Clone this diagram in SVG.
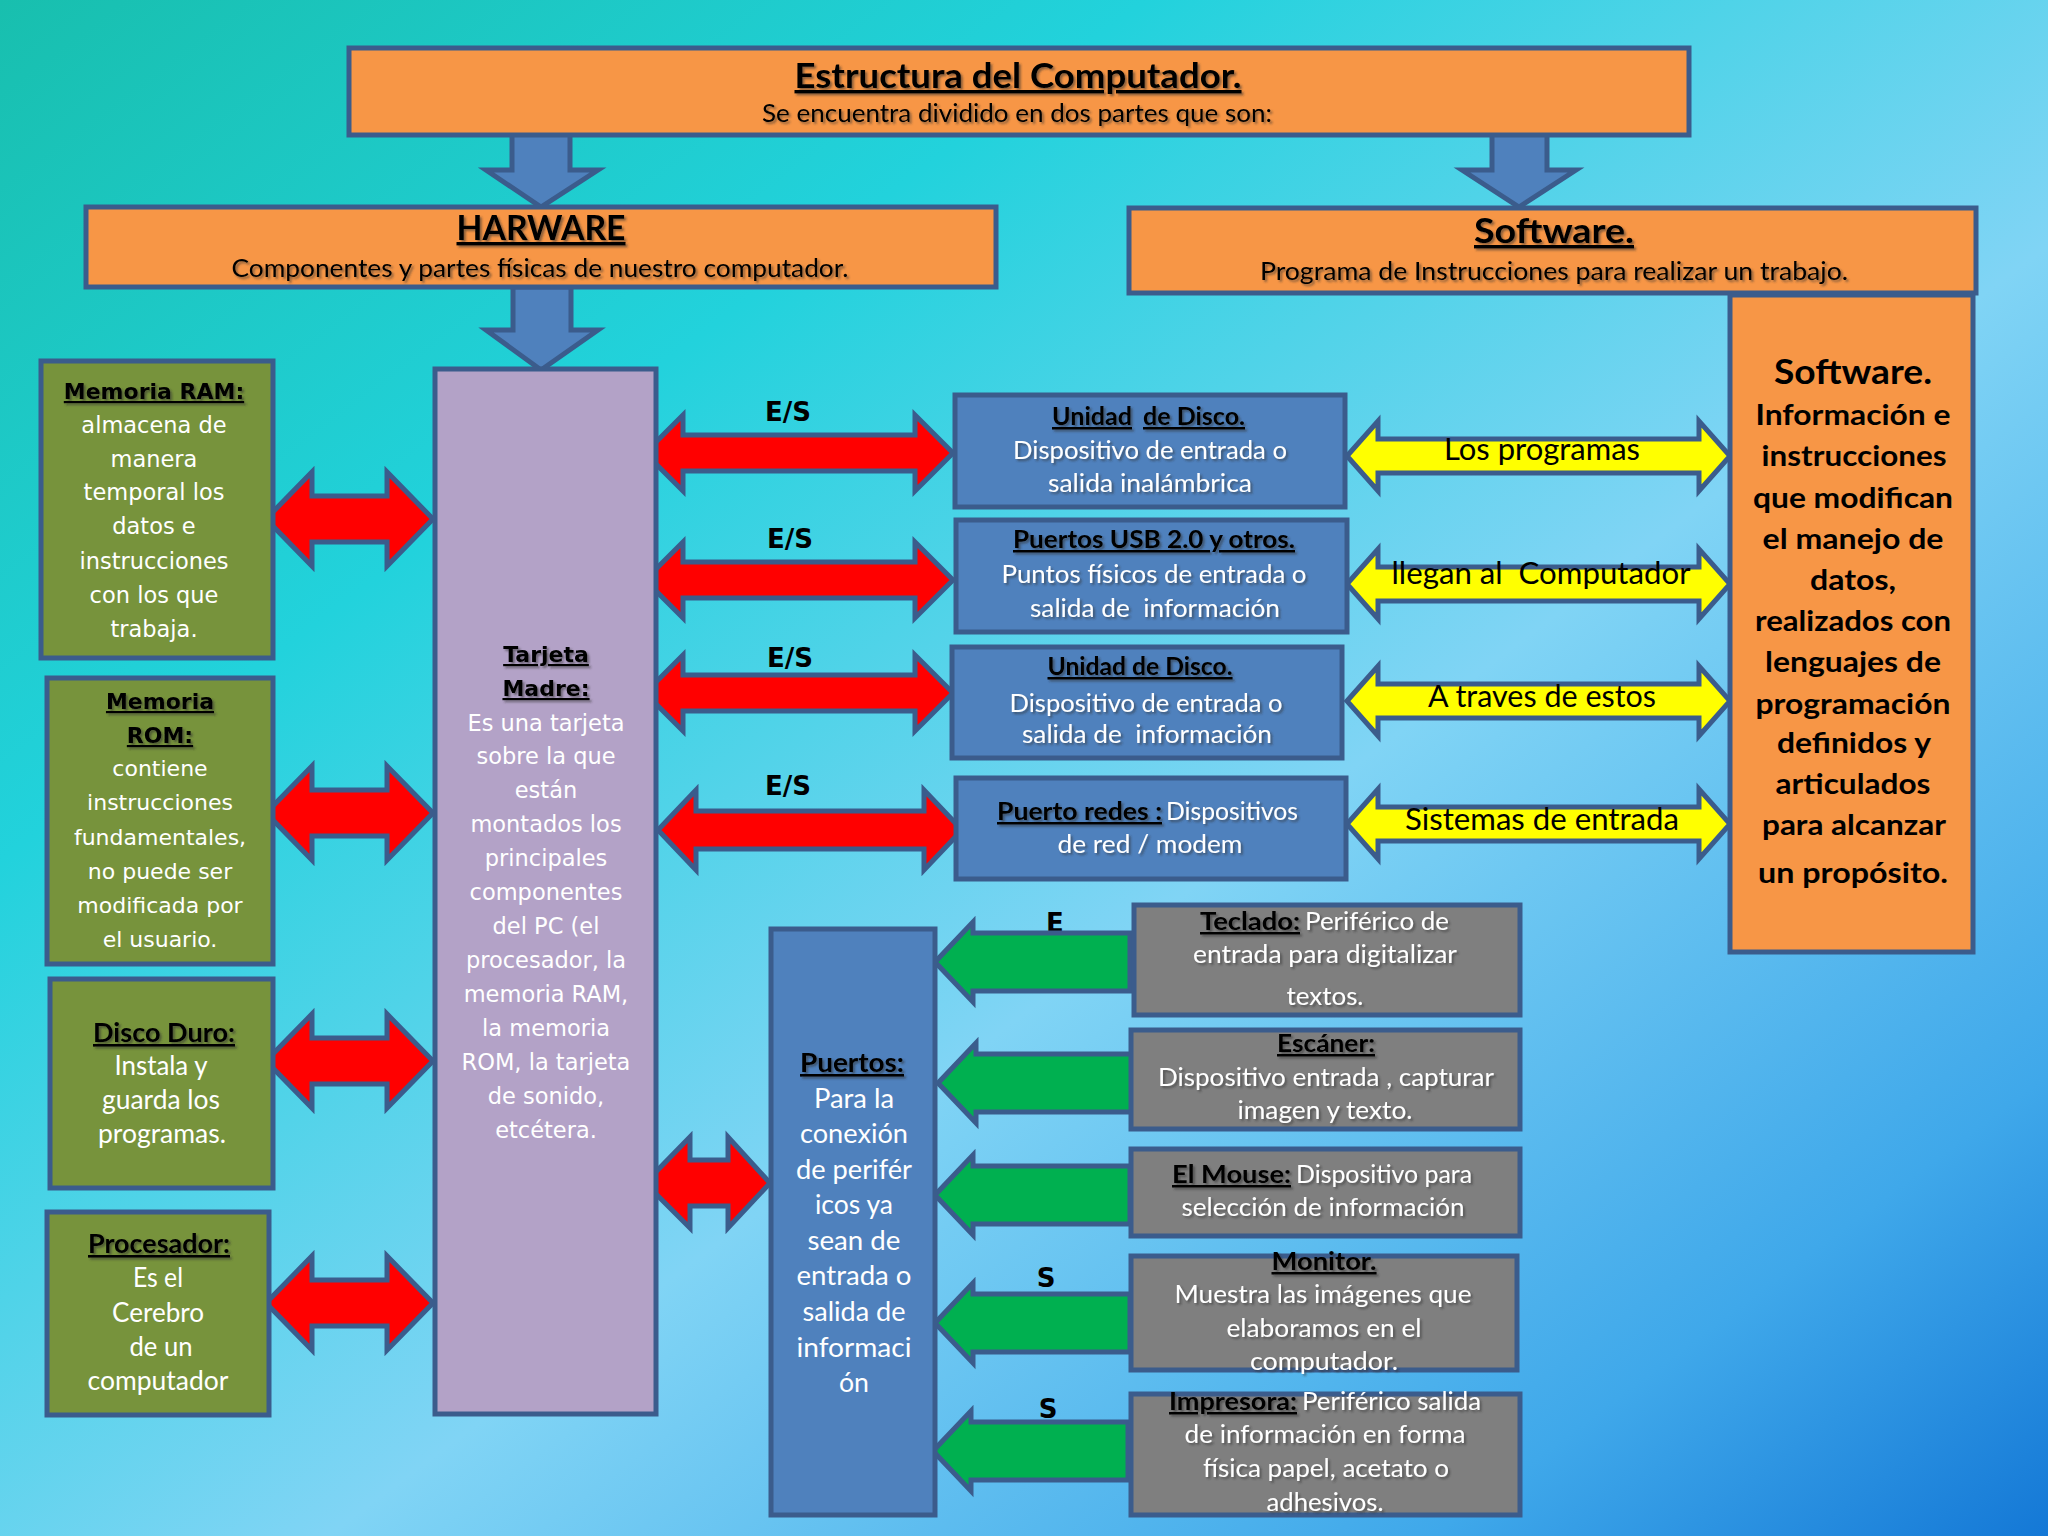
<svg xmlns="http://www.w3.org/2000/svg" width="2048" height="1536" viewBox="0 0 2048 1536">
<defs>
  <linearGradient id="bg" x1="0" y1="0" x2="1" y2="1">
    <stop offset="0" stop-color="#18BFAE"/>
    <stop offset="0.28" stop-color="#22D2DC"/>
    <stop offset="0.58" stop-color="#80D4F5"/>
    <stop offset="0.85" stop-color="#3FA8EA"/>
    <stop offset="1" stop-color="#1478D6"/>
  </linearGradient>
  <filter id="sh" x="-10%" y="-30%" width="120%" height="160%">
    <feDropShadow dx="2" dy="2" stdDeviation="1.2" flood-color="#333" flood-opacity="0.55"/>
  </filter>
  <path id="arL" d="M266,0 L312,-47 L312,-23 L387,-23 L387,-47 L433,0 L387,47 L387,23 L312,23 L312,47 Z"/>
  <path id="arES" d="M645,0 L683,-38 L683,-18 L915,-18 L915,-38 L953,0 L915,38 L915,18 L683,18 L683,38 Z"/>
  <path id="arY" d="M1347,0 L1378,-35 L1378,-17 L1699,-17 L1699,-35 L1730,0 L1699,35 L1699,17 L1378,17 L1378,35 Z"/>
  <path id="arG" d="M935,0 L973,-40 L973,-29 L1130,-29 L1130,29 L973,29 L973,40 Z"/>
</defs>
<style>
  .box{stroke:#3B5C8C;stroke-width:5}
  .ar{stroke:#3B5C8C;stroke-width:5;stroke-linejoin:miter}
  .or{fill:#F79646}
  .gr{fill:#77933C}
  .pu{fill:#B3A2C7}
  .bl{fill:#4F81BD}
  .gy{fill:#7F7F7F}
  .red{fill:#FF0000}
  .yel{fill:#FFFF00}
  .grn{fill:#00B050}
  .dblue{fill:#4F81BD}
  .cal{font-family:Lato,"Liberation Sans",sans-serif}
  .ver{font-family:"DejaVu Sans",Verdana,sans-serif}
  .m{text-anchor:middle}
  .w{fill:#FFFFFF}
  .k{fill:#000000}
  .b{font-weight:bold}
  .u{text-decoration:underline}
  .lab{font-family:"DejaVu Sans",Verdana,sans-serif;font-weight:bold;font-size:26px;fill:#000;text-anchor:middle}
</style>
<rect x="0" y="0" width="2048" height="1536" fill="url(#bg)"/>

<g id="connectors">
  <path class="ar dblue" d="M512,133 L570,133 L570,170 L598,170 L541,207 L486,170 L512,170 Z"/>
  <path class="ar dblue" d="M1492,133 L1547,133 L1547,170 L1576,170 L1519,207 L1462,170 L1492,170 Z"/>
  <path class="ar dblue" d="M513,287 L571,287 L571,330 L598,330 L541,370 L486,330 L513,330 Z"/>
  <use href="#arL" class="ar red" transform="translate(0,519)"/>
  <use href="#arL" class="ar red" transform="translate(0,813)"/>
  <use href="#arL" class="ar red" transform="translate(0,1061)"/>
  <use href="#arL" class="ar red" transform="translate(0,1303)"/>
  <use href="#arES" class="ar red" transform="translate(0,453)"/>
  <use href="#arES" class="ar red" transform="translate(0,580)"/>
  <use href="#arES" class="ar red" transform="translate(0,693)"/>
  <path class="ar red" d="M658,830 L696,790 L696,811 L924,811 L924,790 L962,830 L924,870 L924,849 L696,849 L696,870 Z"/>
  <path class="ar red" d="M645,1183 L690,1137 L690,1160 L728,1160 L728,1137 L770,1183 L728,1228 L728,1206 L690,1206 L690,1228 Z"/>
  <text class="lab" x="788" y="421">E/S</text>
  <text class="lab" x="790" y="548">E/S</text>
  <text class="lab" x="790" y="667">E/S</text>
  <text class="lab" x="788" y="795">E/S</text>
  <use href="#arY" class="ar yel" transform="translate(0,456)"/>
  <use href="#arY" class="ar yel" transform="translate(0,584)"/>
  <use href="#arY" class="ar yel" transform="translate(0,701)"/>
  <use href="#arY" class="ar yel" transform="translate(0,824)"/>
  <text class="cal m k" font-size="30" x="1542" y="460" textLength="196" lengthAdjust="spacingAndGlyphs">Los programas</text>
  <text class="cal m k" font-size="30" x="1541" y="584" textLength="299" lengthAdjust="spacingAndGlyphs" xml:space="preserve">llegan al  Computador</text>
  <text class="cal m k" font-size="30" x="1542" y="707" textLength="228" lengthAdjust="spacingAndGlyphs">A traves de estos</text>
  <text class="cal m k" font-size="30" x="1542" y="830" textLength="274" lengthAdjust="spacingAndGlyphs">Sistemas de entrada</text>
  <text class="lab" x="1055" y="932">E</text>
  <text class="lab" x="1055" y="1072">E</text>
  <text class="lab" x="1046" y="1287">S</text>
  <text class="lab" x="1048" y="1418">S</text>
  <use href="#arG" class="ar grn" transform="translate(0,962)"/>
  <use href="#arG" class="ar grn" transform="translate(3,1083)"/>
  <use href="#arG" class="ar grn" transform="translate(0,1195)"/>
  <use href="#arG" class="ar grn" transform="translate(0,1323)"/>
  <use href="#arG" class="ar grn" transform="translate(-2,1451)"/>
</g>

<g id="title">
  <rect class="box or" x="349" y="48" width="1340" height="87"/>
  <text class="cal m k b u" filter="url(#sh)" font-size="34" x="1018" y="88" textLength="447" lengthAdjust="spacingAndGlyphs">Estructura del Computador.</text>
  <text class="cal m k" filter="url(#sh)" font-size="25" x="1017" y="122" textLength="510" lengthAdjust="spacingAndGlyphs">Se encuentra dividido en dos partes que son:</text>
</g>

<g id="hardware">
  <rect class="box or" x="86" y="207" width="910" height="80"/>
  <text class="cal m k b u" filter="url(#sh)" font-size="34" x="541" y="240" textLength="169" lengthAdjust="spacingAndGlyphs">HARWARE</text>
  <text class="cal m k" filter="url(#sh)" font-size="25" x="540" y="277" textLength="617" lengthAdjust="spacingAndGlyphs">Componentes y partes físicas de nuestro computador.</text>
</g>

<g id="software">
  <rect class="box or" x="1129" y="208" width="847" height="85"/>
  <text class="cal m k b u" filter="url(#sh)" font-size="34" x="1554" y="243" textLength="160" lengthAdjust="spacingAndGlyphs">Software.</text>
  <text class="cal m k" filter="url(#sh)" font-size="25" x="1554" y="280" textLength="588" lengthAdjust="spacingAndGlyphs">Programa de Instrucciones para realizar un trabajo.</text>
</g>

<g id="software-desc">
  <rect class="box or" x="1730" y="295" width="243" height="657"/>
  <g class="cal m k b" font-size="28">
    <text x="1853" y="384" font-size="34" textLength="158" lengthAdjust="spacingAndGlyphs">Software.</text>
    <text x="1853" y="425" textLength="195" lengthAdjust="spacingAndGlyphs">Información e</text>
    <text x="1854" y="466" textLength="185" lengthAdjust="spacingAndGlyphs">instrucciones</text>
    <text x="1853" y="508" textLength="200" lengthAdjust="spacingAndGlyphs">que modifican</text>
    <text x="1853" y="549" textLength="181" lengthAdjust="spacingAndGlyphs">el manejo de</text>
    <text x="1853" y="590" textLength="86" lengthAdjust="spacingAndGlyphs">datos,</text>
    <text x="1853" y="631" textLength="196" lengthAdjust="spacingAndGlyphs">realizados con</text>
    <text x="1853" y="672" textLength="176" lengthAdjust="spacingAndGlyphs">lenguajes de</text>
    <text x="1853" y="714" textLength="195" lengthAdjust="spacingAndGlyphs">programación</text>
    <text x="1854" y="753" textLength="154" lengthAdjust="spacingAndGlyphs">definidos y</text>
    <text x="1853" y="794" textLength="155" lengthAdjust="spacingAndGlyphs">articulados</text>
    <text x="1854" y="835" textLength="184" lengthAdjust="spacingAndGlyphs">para alcanzar</text>
    <text x="1853" y="883" textLength="190" lengthAdjust="spacingAndGlyphs">un propósito.</text>
  </g>
</g>

<g id="memoria-ram">
  <rect class="box gr" x="41" y="361" width="232" height="297"/>
  <text class="ver m k b u" filter="url(#sh)" font-size="22" x="154" y="399">Memoria RAM:</text>
  <g class="ver m w" font-size="22.5">
    <text x="154" y="433">almacena de</text>
    <text x="154" y="467">manera</text>
    <text x="154" y="500">temporal los</text>
    <text x="154" y="534">datos e</text>
    <text x="154" y="569">instrucciones</text>
    <text x="154" y="603">con los que</text>
    <text x="154" y="637">trabaja.</text>
  </g>
</g>

<g id="memoria-rom">
  <rect class="box gr" x="47" y="678" width="226" height="286"/>
  <text class="ver m k b u" filter="url(#sh)" font-size="22" x="160" y="709">Memoria</text>
  <text class="ver m k b u" filter="url(#sh)" font-size="22" x="160" y="743">ROM:</text>
  <g class="ver m w" font-size="22">
    <text x="160" y="776">contiene</text>
    <text x="160" y="810">instrucciones</text>
    <text x="160" y="845">fundamentales,</text>
    <text x="160" y="879">no puede ser</text>
    <text x="160" y="913">modificada por</text>
    <text x="160" y="947">el usuario.</text>
  </g>
</g>

<g id="disco-duro">
  <rect class="box gr" x="50" y="979" width="223" height="209"/>
  <text class="cal m k b u" filter="url(#sh)" font-size="26" x="164" y="1042" textLength="142" lengthAdjust="spacingAndGlyphs">Disco Duro:</text>
  <g class="cal m w" font-size="26">
    <text x="161" y="1075" textLength="93" lengthAdjust="spacingAndGlyphs">Instala y</text>
    <text x="161" y="1109" textLength="118" lengthAdjust="spacingAndGlyphs">guarda los</text>
    <text x="162" y="1143" textLength="128" lengthAdjust="spacingAndGlyphs">programas.</text>
  </g>
</g>

<g id="procesador">
  <rect class="box gr" x="47" y="1212" width="222" height="203"/>
  <text class="cal m k b u" filter="url(#sh)" font-size="26" x="159" y="1253" textLength="142" lengthAdjust="spacingAndGlyphs">Procesador:</text>
  <g class="cal m w" font-size="26">
    <text x="158" y="1287" textLength="50" lengthAdjust="spacingAndGlyphs">Es el</text>
    <text x="158" y="1322" textLength="92" lengthAdjust="spacingAndGlyphs">Cerebro</text>
    <text x="161" y="1356" textLength="63" lengthAdjust="spacingAndGlyphs">de un</text>
    <text x="158" y="1390" textLength="141" lengthAdjust="spacingAndGlyphs">computador</text>
  </g>
</g>

<g id="tarjeta-madre">
  <rect class="box pu" x="435" y="369" width="221" height="1045"/>
  <text class="ver m k b u" filter="url(#sh)" font-size="22" x="546" y="662">Tarjeta</text>
  <text class="ver m k b u" filter="url(#sh)" font-size="22" x="546" y="696">Madre:</text>
  <g class="ver m w" font-size="22.5">
    <text x="546" y="731">Es una tarjeta</text>
    <text x="546" y="764">sobre la que</text>
    <text x="546" y="798">están</text>
    <text x="546" y="832">montados los</text>
    <text x="546" y="866">principales</text>
    <text x="546" y="900">componentes</text>
    <text x="546" y="934">del PC (el</text>
    <text x="546" y="968">procesador, la</text>
    <text x="546" y="1002">memoria RAM,</text>
    <text x="546" y="1036">la memoria</text>
    <text x="546" y="1070">ROM, la tarjeta</text>
    <text x="546" y="1104">de sonido,</text>
    <text x="546" y="1138">etcétera.</text>
  </g>
</g>

<g id="unidad-disco-1">
  <rect class="box bl" x="955" y="395" width="390" height="112"/>
  <text class="cal k b u" filter="url(#sh)" font-size="25" y="425"><tspan x="1052" textLength="80" lengthAdjust="spacingAndGlyphs">Unidad</tspan><tspan x="1143" textLength="102" lengthAdjust="spacingAndGlyphs">de Disco.</tspan></text>
  <text class="cal m w" filter="url(#sh)" font-size="25" x="1150" y="459" textLength="274" lengthAdjust="spacingAndGlyphs">Dispositivo de entrada o</text>
  <text class="cal m w" filter="url(#sh)" font-size="25" x="1150" y="492" textLength="204" lengthAdjust="spacingAndGlyphs">salida inalámbrica</text>
</g>

<g id="puertos-usb">
  <rect class="box bl" x="956" y="520" width="391" height="112"/>
  <text class="cal m k b u" filter="url(#sh)" font-size="25" x="1154" y="548" textLength="282" lengthAdjust="spacingAndGlyphs">Puertos USB 2.0 y otros.</text>
  <text class="cal m w" filter="url(#sh)" font-size="25" x="1154" y="583" textLength="305" lengthAdjust="spacingAndGlyphs">Puntos físicos de entrada o</text>
  <text class="cal m w" filter="url(#sh)" font-size="25" x="1155" y="617" textLength="250" lengthAdjust="spacingAndGlyphs" xml:space="preserve">salida de  información</text>
</g>

<g id="unidad-disco-2">
  <rect class="box bl" x="952" y="647" width="390" height="111"/>
  <text class="cal m k b u" filter="url(#sh)" font-size="25" x="1140" y="675" textLength="185" lengthAdjust="spacingAndGlyphs">Unidad de Disco.</text>
  <text class="cal m w" filter="url(#sh)" font-size="25" x="1146" y="712" textLength="273" lengthAdjust="spacingAndGlyphs">Dispositivo de entrada o</text>
  <text class="cal m w" filter="url(#sh)" font-size="25" x="1147" y="743" textLength="250" lengthAdjust="spacingAndGlyphs" xml:space="preserve">salida de  información</text>
</g>

<g id="puerto-redes">
  <rect class="box bl" x="956" y="778" width="390" height="101"/>
  <text class="cal" filter="url(#sh)" font-size="25" y="820"><tspan class="k b u" x="997" textLength="165" lengthAdjust="spacingAndGlyphs">Puerto redes :</tspan><tspan class="w" x="1166" textLength="132" lengthAdjust="spacingAndGlyphs">Dispositivos</tspan></text>
  <text class="cal m w" filter="url(#sh)" font-size="25" x="1150" y="853" textLength="185" lengthAdjust="spacingAndGlyphs">de red / modem</text>
</g>

<g id="puertos">
  <rect class="box bl" x="771" y="929" width="164" height="586"/>
  <text class="cal m k b u" filter="url(#sh)" font-size="26" x="852" y="1072" textLength="104" lengthAdjust="spacingAndGlyphs">Puertos:</text>
  <g class="cal m w" font-size="26">
    <text x="854" y="1108" textLength="80" lengthAdjust="spacingAndGlyphs">Para la</text>
    <text x="854" y="1143" textLength="108" lengthAdjust="spacingAndGlyphs">conexión</text>
    <text x="854" y="1179" textLength="116" lengthAdjust="spacingAndGlyphs">de perifér</text>
    <text x="854" y="1214" textLength="78" lengthAdjust="spacingAndGlyphs">icos ya</text>
    <text x="854" y="1250" textLength="93" lengthAdjust="spacingAndGlyphs">sean de</text>
    <text x="854" y="1285" textLength="115" lengthAdjust="spacingAndGlyphs">entrada o</text>
    <text x="854" y="1321" textLength="103" lengthAdjust="spacingAndGlyphs">salida de</text>
    <text x="854" y="1357" textLength="115" lengthAdjust="spacingAndGlyphs">informaci</text>
    <text x="854" y="1392" textLength="30" lengthAdjust="spacingAndGlyphs">ón</text>
  </g>
</g>

<g id="teclado">
  <rect class="box gy" x="1134" y="905" width="386" height="110"/>
  <text class="cal" filter="url(#sh)" font-size="25" y="930"><tspan class="k b u" x="1200" textLength="100" lengthAdjust="spacingAndGlyphs">Teclado:</tspan><tspan class="w" x="1305" textLength="144" lengthAdjust="spacingAndGlyphs">Periférico de</tspan></text>
  <text class="cal m w" filter="url(#sh)" font-size="25" x="1325" y="963" textLength="264" lengthAdjust="spacingAndGlyphs">entrada para digitalizar</text>
  <text class="cal m w" filter="url(#sh)" font-size="25" x="1325" y="1005" textLength="77" lengthAdjust="spacingAndGlyphs">textos.</text>
</g>

<g id="escaner">
  <rect class="box gy" x="1131" y="1030" width="389" height="99"/>
  <text class="cal m k b u" filter="url(#sh)" font-size="25" x="1326" y="1052" textLength="98" lengthAdjust="spacingAndGlyphs">Escáner:</text>
  <text class="cal m w" filter="url(#sh)" font-size="25" x="1326" y="1086" textLength="336" lengthAdjust="spacingAndGlyphs">Dispositivo entrada , capturar</text>
  <text class="cal m w" filter="url(#sh)" font-size="25" x="1325" y="1119" textLength="175" lengthAdjust="spacingAndGlyphs">imagen y texto.</text>
</g>

<g id="mouse">
  <rect class="box gy" x="1131" y="1149" width="389" height="87"/>
  <text class="cal" filter="url(#sh)" font-size="25" y="1183"><tspan class="k b u" x="1172" textLength="119" lengthAdjust="spacingAndGlyphs">El Mouse:</tspan><tspan class="w" x="1296" textLength="176" lengthAdjust="spacingAndGlyphs">Dispositivo para</tspan></text>
  <text class="cal m w" filter="url(#sh)" font-size="25" x="1323" y="1216" textLength="283" lengthAdjust="spacingAndGlyphs">selección de información</text>
</g>

<g id="monitor">
  <rect class="box gy" x="1131" y="1256" width="386" height="114"/>
  <text class="cal m k b u" filter="url(#sh)" font-size="25" x="1324" y="1270" textLength="105" lengthAdjust="spacingAndGlyphs">Monitor.</text>
  <text class="cal m w" filter="url(#sh)" font-size="25" x="1323" y="1303" textLength="297" lengthAdjust="spacingAndGlyphs">Muestra las imágenes que</text>
  <text class="cal m w" filter="url(#sh)" font-size="25" x="1324" y="1337" textLength="195" lengthAdjust="spacingAndGlyphs">elaboramos en el</text>
  <text class="cal m w" filter="url(#sh)" font-size="25" x="1324" y="1370" textLength="148" lengthAdjust="spacingAndGlyphs">computador.</text>
</g>

<g id="impresora">
  <rect class="box gy" x="1131" y="1394" width="389" height="121"/>
  <text class="cal" filter="url(#sh)" font-size="25" y="1410"><tspan class="k b u" x="1169" textLength="128" lengthAdjust="spacingAndGlyphs">Impresora:</tspan><tspan class="w" x="1302" textLength="179" lengthAdjust="spacingAndGlyphs">Periférico salida</tspan></text>
  <text class="cal m w" filter="url(#sh)" font-size="25" x="1325" y="1443" textLength="281" lengthAdjust="spacingAndGlyphs">de información en forma</text>
  <text class="cal m w" filter="url(#sh)" font-size="25" x="1326" y="1477" textLength="246" lengthAdjust="spacingAndGlyphs">física papel, acetato o</text>
  <text class="cal m w" filter="url(#sh)" font-size="25" x="1325" y="1511" textLength="117" lengthAdjust="spacingAndGlyphs">adhesivos.</text>
</g>
</svg>
